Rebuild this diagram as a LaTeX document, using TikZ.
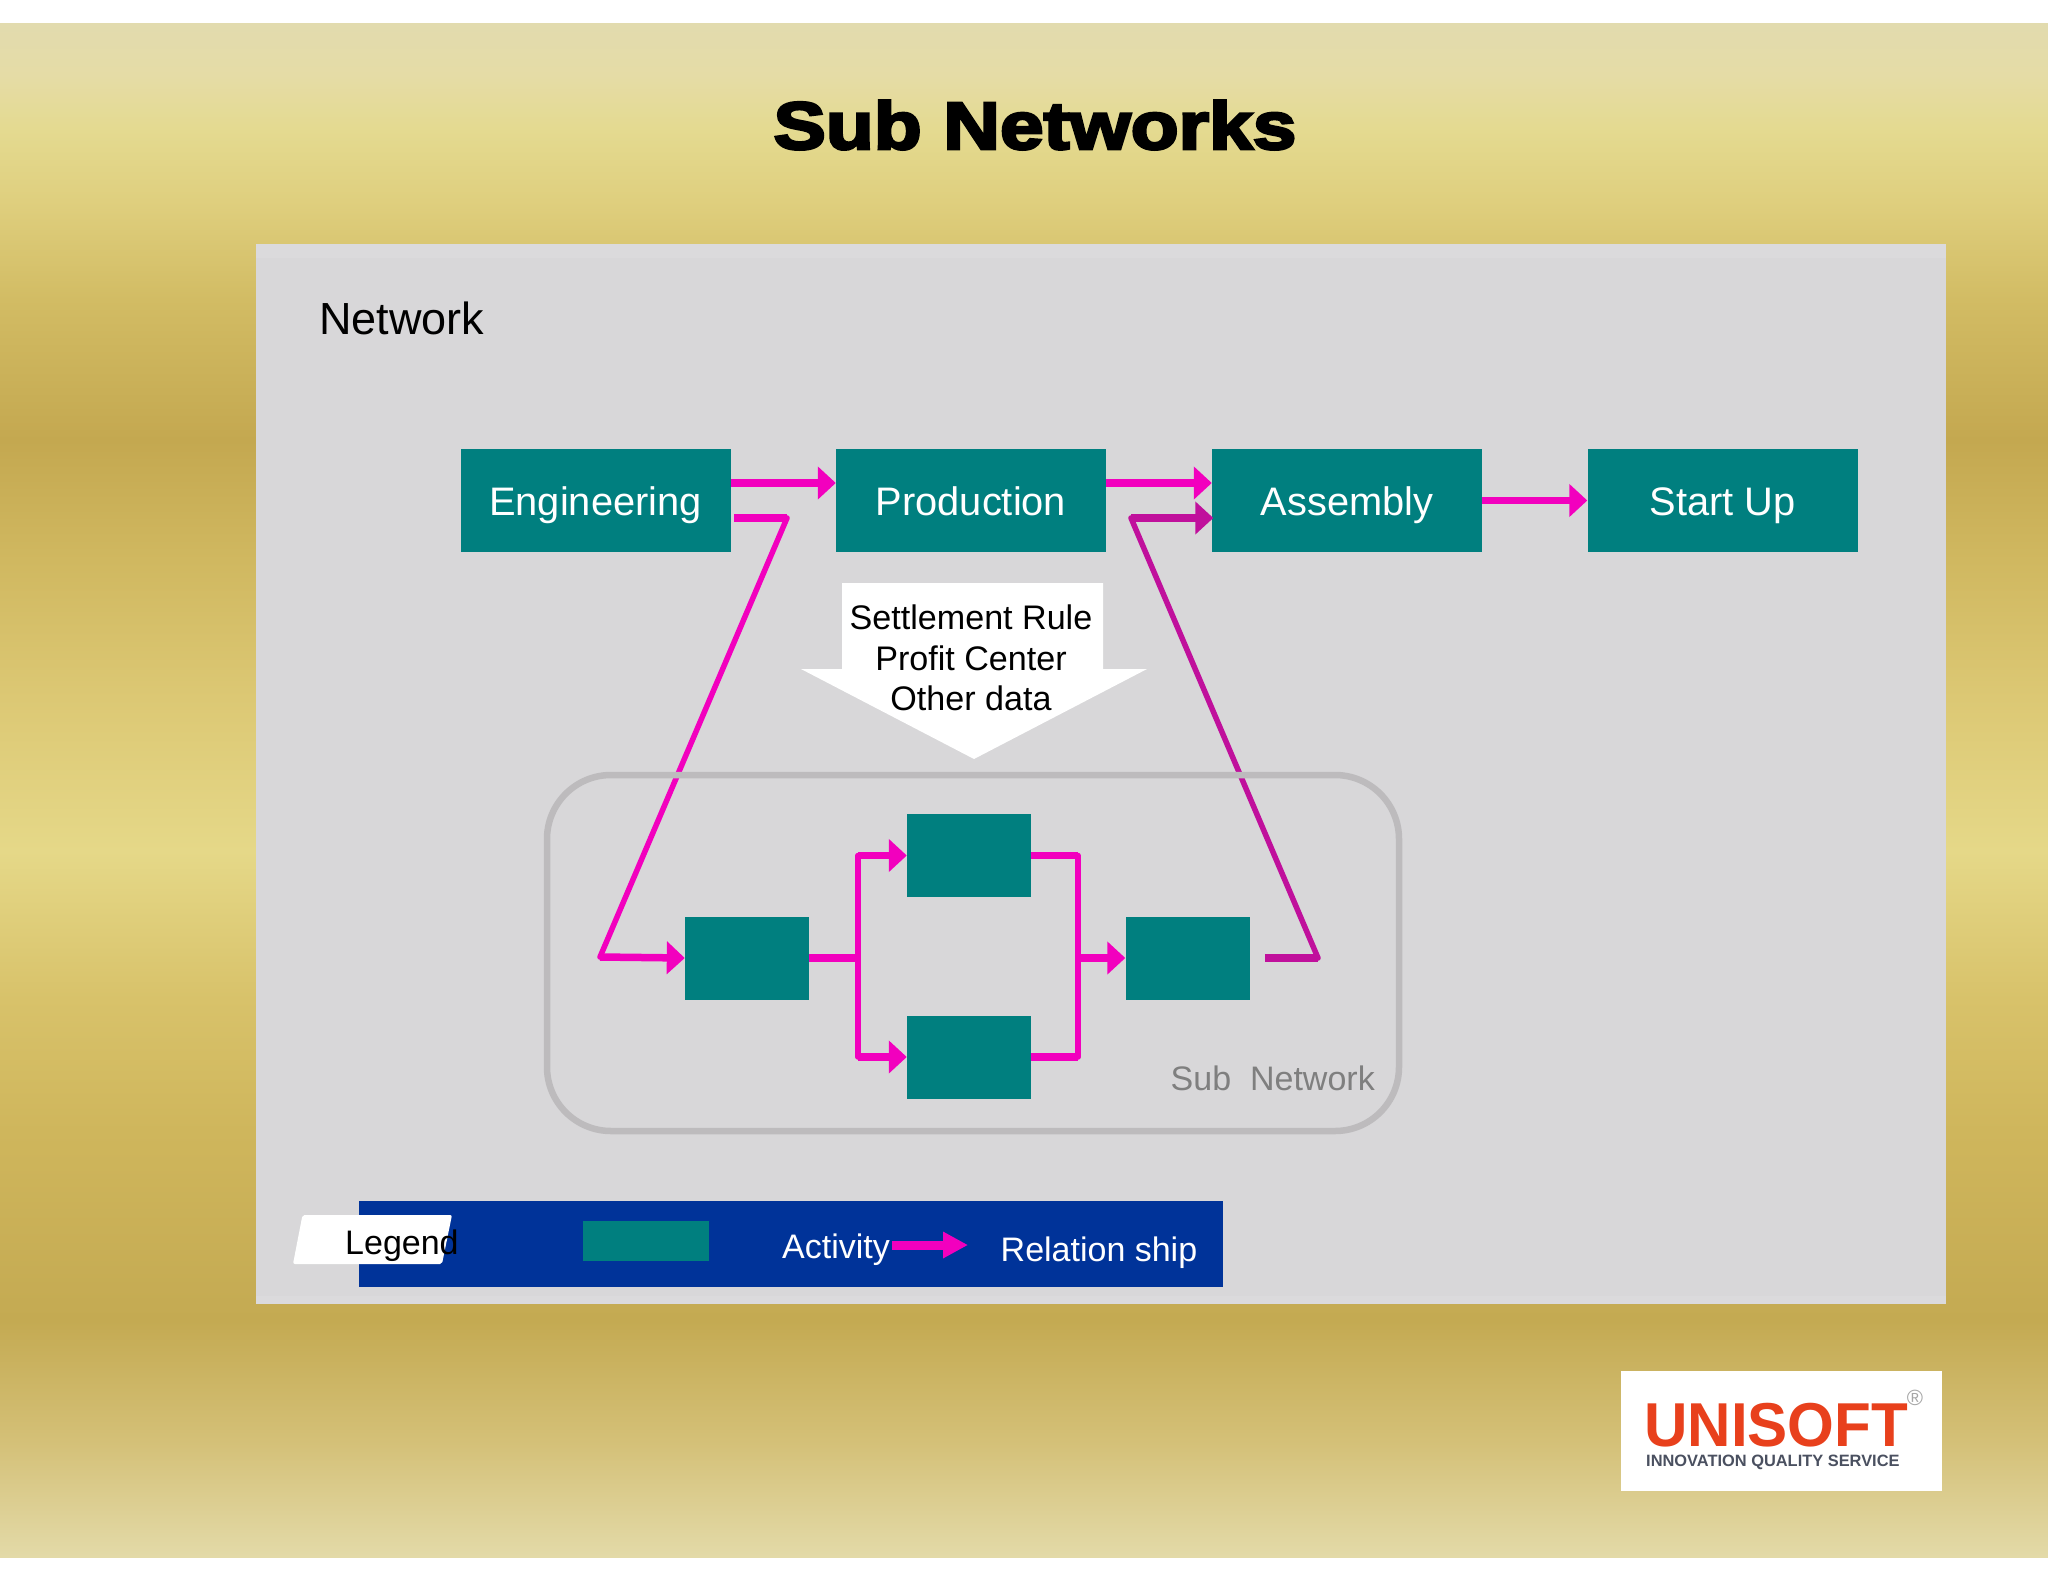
\documentclass[tikz,border=0pt]{standalone}
\usepackage{fontspec}
\setmainfont{Liberation Sans}
\newfontfamily\titlefont[FakeBold=4,FakeStretch=1.1]{Liberation Sans Bold}
\usetikzlibrary{arrows.meta,calc}
\definecolor{tealbox}{HTML}{007F7F}
\definecolor{mag}{HTML}{F200BE}
\definecolor{magdark}{HTML}{C0109C}
\definecolor{subgray}{HTML}{BDBBBD}
\definecolor{subtext}{HTML}{7F7F7F}
\definecolor{legblue}{HTML}{003399}
\definecolor{panelc}{HTML}{D8D7D9}
\definecolor{panele}{HTML}{DBDADC}
\definecolor{ca}{HTML}{E2DBAE}
\definecolor{cb}{HTML}{E5DCA6}
\definecolor{cc}{HTML}{E4DA90}
\definecolor{cd}{HTML}{DFCF7E}
\definecolor{ce}{HTML}{D2BC64}
\definecolor{cf}{HTML}{C4A850}
\definecolor{cg}{HTML}{D0B860}
\definecolor{ch}{HTML}{DCC874}
\definecolor{ci}{HTML}{E5D888}
\definecolor{cj}{HTML}{D8C26A}
\definecolor{ck}{HTML}{CFB65C}
\definecolor{cl}{HTML}{C4AA52}
\definecolor{cm}{HTML}{D4C077}
\definecolor{cn}{HTML}{E3DAA8}
\pgfdeclareverticalshading{bgshade}{100bp}{color(0bp)=(cn); color(25bp)=(cn); color(28.8bp)=(cm); color(32.7bp)=(cl); color(38.9bp)=(ck); color(43.2bp)=(cj); color(48bp)=(ci); color(53bp)=(ch); color(57.5bp)=(cg); color(61.4bp)=(cf); color(66bp)=(ce); color(69.2bp)=(cd); color(71.5bp)=(cc); color(73.3bp)=(cb); color(75bp)=(ca); color(100bp)=(ca)}
\tikzset{
  x=1pt,y=-1pt,
  bigbox/.style={fill=tealbox,minimum width=270pt,minimum height=103pt,inner sep=0pt,text=white,font=\fontsize{39.8}{44}\selectfont,text height=29pt,text depth=0pt},
  subbox/.style={fill=tealbox,minimum width=124pt,minimum height=83pt,inner sep=0pt},
  label/.style={inner sep=0pt,anchor=base west,font=\fontsize{34}{40}\selectfont},
  thick line/.style={line width=7.5pt,mag},
  thin line/.style={line width=5.5pt,mag,line join=round,line cap=round},
  tip/.style={-{Triangle[length=18pt,width=32pt]}},
}
\begin{document}
\begin{tikzpicture}
\useasboundingbox (0,0) rectangle (2048,1582);
\fill[white] (0,0) rectangle (2048,1582);
\shade[shading=bgshade] (0,23) rectangle (2048,1557);
\fill[panele] (256,244) rectangle (1946,1304);
\fill[panelc] (256,258) rectangle (1946,1296);

\node[inner sep=0pt,anchor=base,xscale=1.064,font=\titlefont\fontsize{67}{72}\selectfont] (title) at (1035,149) {Sub Networks};
\node[label,font=\fontsize{45}{50}\selectfont] (network) at (319,334) {Network};

\node[bigbox] (eng) at (595.5,500.5) {Engineering};
\node[bigbox] (prod) at (971,500.5) {Production};
\node[bigbox] (assy) at (1347,500.5) {Assembly};
\node[bigbox] (start) at (1722.5,500.5) {Start Up};

\node[subbox] (s1) at (747,958) {};
\node[subbox] (s2) at (969,855.5) {};
\node[subbox] (s3) at (969,1057) {};
\node[subbox] (s4) at (1187.5,958) {};

\coordinate (e0) at (734,518);
\coordinate (e1) at (787,518);
\coordinate (e2) at (600,957);
\coordinate (r0) at (1265,958);
\coordinate (r1) at (1318,958);
\coordinate (r2) at (1131,518);
\coordinate (ja) at (858,958);
\coordinate (jb) at (1078,958);

% top row
\draw[thick line,tip] ([yshift=17.5pt]eng.east) -- ([yshift=17.5pt]prod.west);
\draw[thick line,tip] ([yshift=17.5pt]prod.east) -- ([yshift=17.5pt]assy.west);
\draw[thick line,tip] (assy.east) -- (start.west);

% engineering to sub network
\draw[thick line] (e0) -- (e1);
\draw[thin line] (e1) -- (e2);
\draw[thick line,tip] (e2) -- (s1.west);

% sub network to assembly
\draw[line width=7.5pt,magdark] (r0) -- (r1);
\draw[thin line,magdark] (r1) -- (r2);
\draw[line width=7.5pt,magdark,tip] (r2) -- ([yshift=-17.5pt,xshift=1.5pt]assy.west);

% branches
\draw[thick line] (s1.east) -- (ja);
\draw[thin line] (s2.west -| ja) -- (s3.west -| ja);
\draw[thick line,tip] (s2.west -| ja) -- (s2.west);
\draw[thick line,tip] (s3.west -| ja) -- (s3.west);
\draw[thick line] (s2.east) -- (s2.east -| jb);
\draw[thick line] (s3.east) -- (s3.east -| jb);
\draw[thin line] (s2.east -| jb) -- (s3.east -| jb);
\draw[thick line,tip] (jb) -- (s4.west);

% sub network frame
\draw[subgray,line width=6.5pt,rounded corners=64pt] (547,775) rectangle (1399,1131);
\node[inner sep=0pt,anchor=base east,text=subtext,font=\fontsize{34}{40}\selectfont] (subnetlabel) at (1375,1090) {Sub\ \ Network};

% big white arrow
\fill[white] (842,583) -- (1103,583) -- (1103,669) -- (1147,669) -- (974,759) -- (801,669) -- (842,669) -- cycle;
\node[inner sep=0pt,align=center,font=\fontsize{34.1}{40.5}\selectfont] (settle) at (971,658) {Settlement Rule\\Profit Center\\Other data};

% legend
\fill[legblue] (359,1201) rectangle (1222.5,1287);
\fill[white,rounded corners=2pt] (302.5,1215) -- (452,1215) -- (442,1264) -- (293,1264) -- cycle;
\node[label] (legend) at (345,1254) {Legend};
\node[fill=tealbox,minimum width=126pt,minimum height=40pt,inner sep=0pt] (legbox) at (646,1241) {};
\node[label,text=white] (activity) at (782,1258) {Activity};
\node[label,text=white] (relship) at (1000.5,1261) {Relation ship};
\coordinate (la) at (892,1245);
\coordinate (lb) at (968,1245);
\draw[line width=9pt,mag,-{Triangle[length=25pt,width=25pt]}] (la) -- (lb);

% logo
\fill[white] (1621,1371) rectangle (1942,1491);
\node[inner sep=0pt,anchor=base west,text={rgb,255:red,232;green,64;blue,28},font=\bfseries\fontsize{62}{66}\selectfont,xscale=.97] (uni) at (1644,1446) {UNISOFT};
\node[inner sep=0pt,anchor=base west,text={rgb,255:red,74;green,80;blue,96},font=\bfseries\fontsize{16.4}{18}\selectfont] (tag) at (1646,1466) {INNOVATION QUALITY SERVICE};
\node[inner sep=0pt,text=gray!70,font=\fontsize{22}{24}\selectfont] (reg) at (1915,1398) {®};
\end{tikzpicture}
\end{document}
